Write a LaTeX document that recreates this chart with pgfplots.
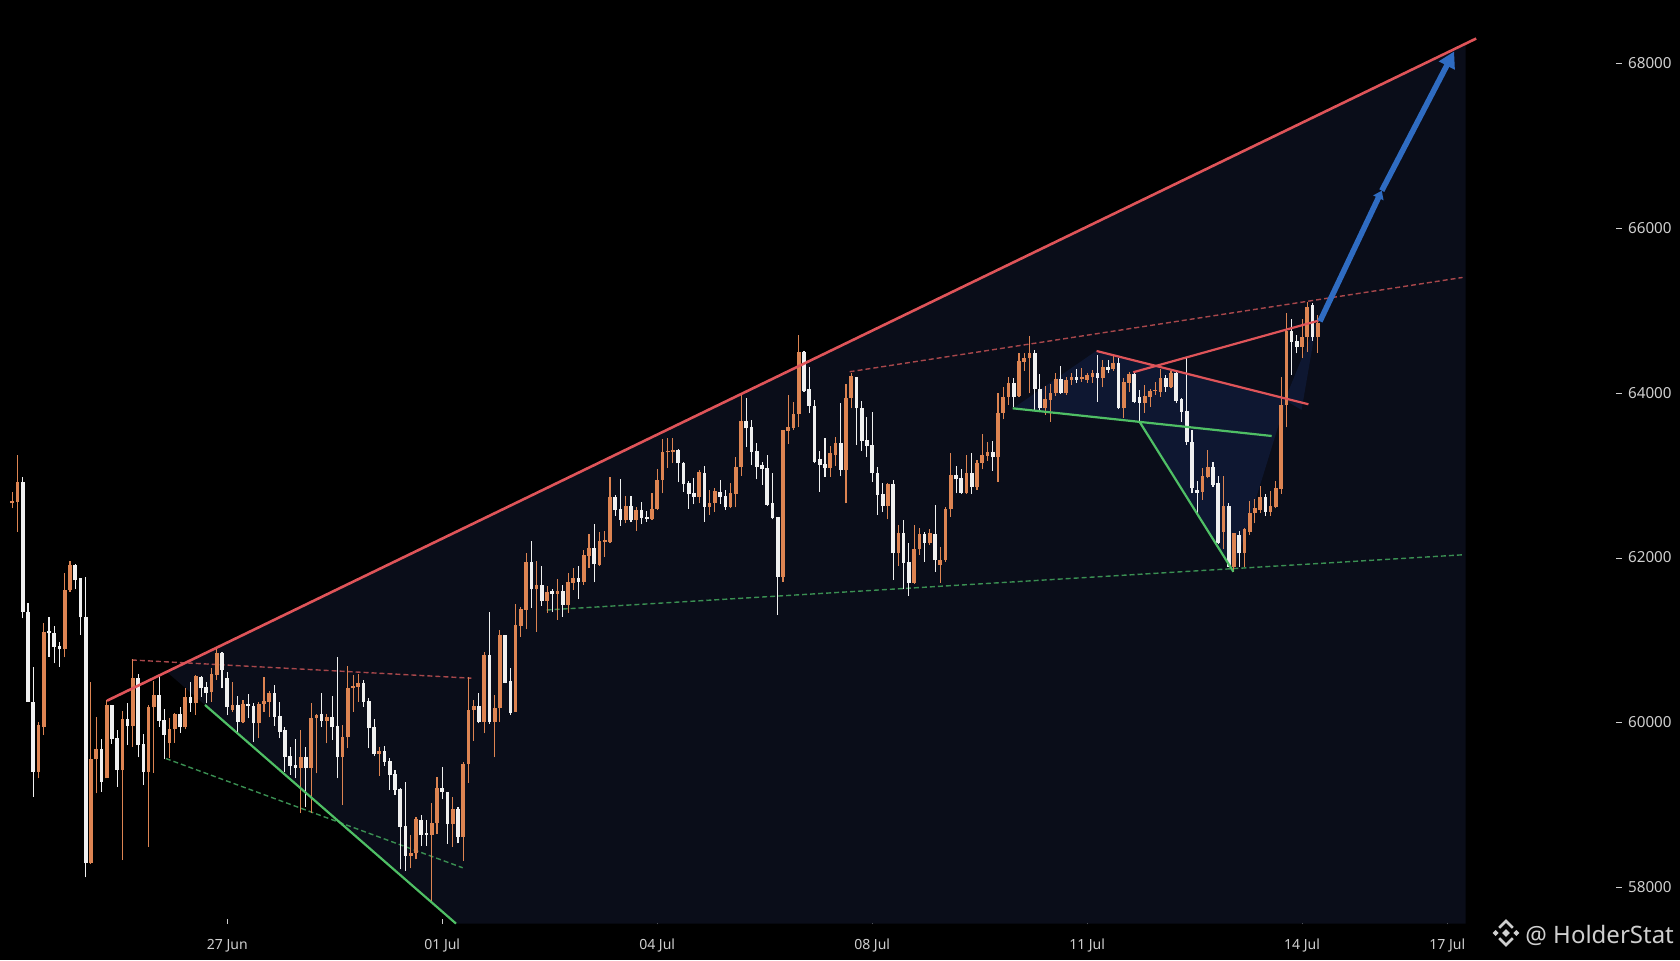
\documentclass[border=0pt]{standalone}
\usepackage{pgfplots}
\usepackage{pgfplotstable}
\usepackage{fontspec}
\setmainfont{Noto Sans}
\pgfplotsset{compat=1.18}
\usetikzlibrary{arrows.meta}

\definecolor{bg}{HTML}{000000}
\definecolor{panel}{HTML}{0A0D19}
\definecolor{pattern}{HTML}{0E1731}
\definecolor{candleup}{HTML}{DD8452}
\definecolor{candledown}{HTML}{F0F0F0}
\definecolor{trendred}{HTML}{DF5459}
\definecolor{dashred}{HTML}{A8474B}
\definecolor{trendgreen}{HTML}{4FBF65}
\definecolor{dashgreen}{HTML}{3A8F52}
\definecolor{arrowblue}{HTML}{2F6CC2}
\definecolor{labelgray}{HTML}{CFCFCF}

% candles, x = candle index (ticks every 41 candles)
\pgfplotstableread{
i O H L C
0 62655 62797 62595 62688
1 62676 63242 62311 62918
2 62918 62971 61259 61340
3 61340 61449 60247 60247
4 60247 60672 59093 59397
5 59397 60004 59316 59963
6 59943 61206 59842 61097
7 61105 61271 60793 61077
8 61085 61166 60712 60915
9 60923 60967 60672 60882
10 60882 61805 60785 61603
11 61603 61959 61583 61906
12 61906 61919 61611 61724
13 61745 61753 61056 61271
14 61271 61765 58114 58284
15 58284 60490 58275 59547
16 59547 60065 59134 59668
17 59668 59789 59154 59275
18 59316 60267 59316 60206
19 60206 60206 59733 59789
20 59801 59903 59215 59417
21 59417 60137 58324 60032
22 60032 60235 59720 59951
23 59951 60761 59700 60530
24 60530 60583 59571 59720
25 59733 59854 59235 59397
26 59397 60206 58486 60178
27 60178 60502 59385 60328
28 60328 60571 59943 60016
29 60024 60154 59547 59842
30 59741 60044 59559 59911
31 59911 60113 59749 60097
32 60097 60186 59870 59935
33 59935 60409 59911 60308
34 60308 60490 60125 60227
35 60227 60571 60085 60558
36 60542 60558 60308 60409
37 60421 60490 60227 60356
38 60360 60652 60247 60583
39 60571 60895 60510 60834
40 60842 60854 60409 60631
41 60530 60611 60085 60186
42 60146 60490 60126 60207
43 60207 60316 59883 60004
44 60004 60267 59984 60219
45 60219 60340 60045 60195
46 60195 60227 59761 59984
47 59984 60247 59802 60219
48 60219 60551 60126 60259
49 60247 60381 60057 60348
50 60348 60450 59952 60065
51 60073 60247 59802 59883
52 59903 59935 59397 59579
53 59587 59701 59357 59466
54 59478 59790 59316 59438
55 59438 59903 58891 59579
56 59579 59701 58972 59438
57 59438 60235 58891 60045
58 60045 60097 59377 60085
59 60097 60348 59935 60016
60 60016 60097 59741 60065
61 60057 60316 59782 59935
62 59952 60785 59316 59571
63 59571 59964 58992 59822
64 59814 60680 59680 60409
65 60409 60571 60126 60437
66 60429 60583 60247 60478
67 60478 60510 60186 60247
68 60259 60288 59680 59923
69 59943 60032 59587 59611
70 59611 59692 59344 59652
71 59652 59709 59466 59518
72 59530 59559 59174 59357
73 59369 59417 59114 59174
74 59182 59195 58211 58729
75 58737 59275 58195 58373
76 58373 58628 58223 58413
77 58405 58842 58332 58818
78 58810 58871 58494 58628
79 58648 58810 58494 58628
80 58628 59020 57806 58778
81 58770 59328 58640 59195
82 59195 59458 59061 59154
83 59154 59154 58519 58761
84 58761 59085 58486 58940
85 58940 58972 58527 58608
86 58608 59518 58316 59490
87 59490 60543 59263 60146
88 60146 60267 59773 60194
89 60194 60356 59984 60004
90 60004 60854 59862 60814
91 60814 61340 59976 60004
92 60004 60328 59571 60166
93 60166 61117 60004 61056
94 61056 61056 60470 60478
95 60498 60652 60085 60113
96 60125 61433 60125 61178
97 61166 61392 61036 61368
98 61360 62048 61125 61947
99 61947 62202 61380 61611
100 61611 61959 61097 61664
101 61664 61894 61409 61473
102 61473 61652 61328 61583
103 61595 61611 61340 61554
104 61554 61732 61239 61595
105 61595 61664 61279 61421
106 61421 61813 61328 61704
107 61692 61866 61603 61745
108 61745 61894 61490 61704
109 61704 62089 61664 62028
110 62016 62283 61866 62109
111 62117 62401 61696 61915
112 61907 62304 61899 62198
113 62190 62320 62008 62210
114 62190 62980 62170 62737
115 62737 62757 62506 62575
116 62587 62951 62385 62453
117 62453 62749 62413 62627
118 62627 62749 62425 62453
119 62453 62615 62320 62575
120 62575 62668 62401 62482
121 62494 62563 62433 62465
122 62465 62777 62453 62587
123 62587 63073 62575 62939
124 62939 63437 62777 63275
125 63275 63453 63089 63291
126 63283 63453 63142 63303
127 63303 63316 62911 63142
128 63142 63154 62797 62886
129 62899 62927 62587 62765
130 62777 62959 62644 62737
131 62737 63061 62656 63032
132 63020 63113 62433 62615
133 62615 62818 62514 62656
134 62664 62838 62554 62809
135 62797 62939 62648 62737
136 62745 62817 62575 62607
137 62615 62898 62595 62777
138 62769 63222 62607 63101
139 63101 63983 62988 63659
140 63659 63931 63344 63566
141 63579 63668 63121 63283
142 63295 63392 62947 63101
143 63121 63162 62878 63069
144 63081 63243 62623 62635
145 62664 63028 62461 62473
146 62486 62494 61300 61765
147 61765 63546 61704 63546
148 63538 63971 63376 63587
149 63566 63890 63546 63740
150 63740 64700 63587 64497
151 64497 64510 64012 64024
152 64040 64315 63749 63838
153 63838 63911 63141 63162
154 63190 63295 62797 63121
155 63133 63445 62979 63081
156 63081 63352 62979 63263
157 63242 63457 63109 63392
158 63392 63878 62987 63060
159 63060 64105 62655 63931
160 63931 64242 63809 64202
161 64186 64194 63364 63809
162 63809 63902 63295 63416
163 63424 63700 63214 63352
164 63364 63769 62918 63028
165 63028 63101 62514 62757
166 62769 62906 62554 62623
167 62623 62906 62461 62890
168 62890 62939 61724 62048
169 62048 62392 61894 62299
170 62299 62453 61611 61935
171 61947 62178 61530 61692
172 61692 62392 61676 62097
173 62097 62352 62028 62283
174 62283 62311 61947 62178
175 62170 62340 62149 62291
176 62283 62635 61826 61967
177 61906 62121 61692 61967
178 61967 62615 61947 62583
179 62583 63271 62494 63000
180 63000 63108 62777 62947
181 62959 63068 62768 62785
182 62785 63242 62768 63019
183 63019 63262 62768 62857
184 62857 63181 62817 63149
185 63149 63497 63068 63242
186 63230 63404 63173 63282
187 63282 63416 63052 63214
188 63214 64000 62918 63756
189 63756 64064 63675 63950
190 63950 64193 63849 64120
191 64120 64173 63821 63950
192 63958 64485 63950 64388
193 64375 64485 64266 64416
194 64416 64687 63991 64477
195 64477 64517 63789 64039
196 64039 64226 63780 63809
197 63809 64080 63728 63918
198 63910 64104 63647 64000
199 64000 64242 63958 64161
200 64161 64323 63983 64000
201 63991 64185 63971 64153
202 64153 64234 64092 64185
203 64186 64283 64121 64153
204 64161 64295 64133 64186
205 64153 64242 64121 64214
206 64186 64275 64121 64242
207 64242 64457 63890 64174
208 64174 64396 64064 64307
209 64307 64396 64234 64275
210 64283 64445 64267 64356
211 64364 64416 63797 63809
212 63809 64174 63688 64133
213 64121 64254 64012 64226
214 64226 64242 63870 63890
215 63951 64032 63647 63878
216 63878 64093 63757 63959
217 63951 64040 63829 64024
218 64024 64133 63971 64032
219 64012 64283 63951 64174
220 64174 64214 64012 64072
221 64072 64267 64052 64234
222 64234 64254 63870 63902
223 63918 63931 63647 63769
224 63781 64437 63364 63404
225 63404 63546 62777 62838
226 62817 62931 62514 62785
227 62797 63080 62696 62987
228 62979 63303 62959 63101
229 63101 63161 62858 62878
230 62906 62987 62161 62170
231 62311 62987 62097 62623
232 62623 62655 61878 61886
233 61886 62299 61826 62291
234 62271 62323 61886 62048
235 62048 62352 61878 62340
236 62311 62688 62271 62542
237 62534 62704 62412 62595
238 62574 62866 62534 62728
239 62728 62769 62501 62554
240 62554 62809 62501 62623
241 62615 62931 62595 62837
242 62825 64185 62769 63849
243 63849 64963 63578 64752
244 64752 64890 64214 64619
245 64631 64700 64477 64558
246 64558 64890 64416 64671
247 64671 65104 64497 65036
248 65064 65084 64631 64671
249 64671 64942 64485 64849
}\candles

\pgfplotsset{
  up/.style={x filter/.expression={\thisrow{C}>=\thisrow{O} ? x : nan}},
  down/.style={x filter/.expression={\thisrow{C}<\thisrow{O} ? x : nan}},
  stick/.style 2 args={draw=none, mark=none, forget plot,
    error bars/y dir=plus, error bars/y explicit, error bars/error mark=none,
    error bars/error bar style={line width=#2, draw=#1}},
}

\begin{document}
\begin{tikzpicture}
\begin{axis}[
  scale only axis, width=840pt, height=480pt,
  xmin=-2.346, xmax=318.08, ymin=57110, ymax=68767,
  axis background/.style={fill=bg},
  axis line style={draw=none},
  scaled ticks=false,
  xtick={41,82,123,164,205,246,273.7},
  xticklabels={27 Jun,01 Jul,04 Jul,08 Jul,11 Jul,14 Jul,17 Jul},
  xtick pos=bottom,
  major tick length=2.5pt,
  xtick style={draw=labelgray, line width=0.5pt, yshift=18pt},
  xticklabel style={anchor=base, yshift=5.5pt, text=labelgray, font=\fontsize{7}{8}\selectfont},
  ytick={58000,60000,...,68000},
  ytick style={draw=none},
  yticklabel pos=right,
  yticklabel style={anchor=east, inner sep=0pt, xshift=-4pt, text=labelgray, font=\fontsize{7.6}{9}\selectfont},
  yticklabel={\rule[0.27em]{3pt}{0.5pt}\hspace{3pt}\pgfmathprintnumber[fixed,precision=0,1000 sep={}]{\tick}},
  /pgf/number format/assume math mode=true,
]
% pattern shading
\addplot[fill=panel, draw=none, forget plot] coordinates
  {(29.45,60609) (36.75,60207) (84.63,57552) (277.2,57552) (277.2,68237)} -- cycle;
\addplot[fill=pattern, draw=none, forget plot] coordinates
  {(190.9,63809) (206.8,64509) (243.1,63931) (232.9,61825) (215.1,63635)} -- cycle;
\addplot[fill=pattern, draw=none, forget plot] coordinates
  {(242.7,63910) (248.8,64861) (245.9,63789)} -- cycle;

% dashed guides
\addplot[dashred, line width=0.7pt, dash pattern=on 2.5pt off 1.5pt] coordinates {(22.8,60753) (87.56,60532)};
\addplot[dashgreen, line width=0.7pt, dash pattern=on 2.5pt off 1.5pt] coordinates {(29.3,59556) (85.9,58230)};
\addplot[dashgreen, line width=0.7pt, dash pattern=on 2.5pt off 1.5pt] coordinates {(101.9,61360) (276.6,62030)};
\addplot[dashred, line width=0.7pt, dash pattern=on 2.5pt off 1.5pt] coordinates {(159.7,64253) (276.6,65398)};

% candles: wicks then bodies
\addplot[up, stick={candleup}{0.55pt}] table[x=i, y=L, y error expr={\thisrow{H}-\thisrow{L}}] {\candles};
\addplot[down, stick={candledown}{0.55pt}] table[x=i, y=L, y error expr={\thisrow{H}-\thisrow{L}}] {\candles};
\addplot[up, stick={candleup}{1.85pt}] table[x=i, y=O, y error expr={\thisrow{C}-\thisrow{O}}] {\candles};
\addplot[down, stick={candledown}{1.85pt}] table[x=i, y=C, y error expr={\thisrow{O}-\thisrow{C}}] {\candles};

% trend lines
\addplot[trendred, line width=1.3pt] coordinates {(18.08,60259) (279.2,68299)};
\addplot[trendgreen, line width=1.1pt] coordinates {(36.75,60207) (84.63,57552)};
\addplot[trendred, line width=1.1pt] coordinates {(206.8,64505) (247.2,63858)};
\addplot[trendred, line width=1.1pt] coordinates {(213.8,64247) (249.1,64873)};
\addplot[trendgreen, line width=1.1pt] coordinates {(190.8,63809) (240.2,63473)};
\addplot[trendgreen, line width=1.1pt] coordinates {(215.1,63635) (232.9,61825)};

% projection arrow
\addplot[arrowblue, line width=2.8pt, -{Triangle[length=4pt,width=5.5pt]}] coordinates {(249.4,64865) (261.2,66452)};
\addplot[arrowblue, line width=2.8pt, -{Triangle[length=8pt,width=8.5pt]}] coordinates {(261.2,66452) (275.0,68143)};
\end{axis}

% watermark
\begin{scope}[shift={(current axis.south west)}, xshift=753pt, yshift=13.5pt]
  \fill[labelgray] (0,-1.9pt) -- (1.9pt,0) -- (0,1.9pt) -- (-1.9pt,0) -- cycle;
  \fill[labelgray] (-5.2pt,-1.5pt) -- (-3.7pt,0) -- (-5.2pt,1.5pt) -- (-6.7pt,0) -- cycle;
  \fill[labelgray] (5.2pt,-1.5pt) -- (6.7pt,0) -- (5.2pt,1.5pt) -- (3.7pt,0) -- cycle;
  \draw[labelgray, line width=1.3pt] (-3.4pt,2.6pt) -- (0,6pt) -- (3.4pt,2.6pt);
  \draw[labelgray, line width=1.3pt] (-3.4pt,-2.6pt) -- (0,-6pt) -- (3.4pt,-2.6pt);
\end{scope}
\node[anchor=base west, inner sep=0pt, text=labelgray, font=\fontsize{12}{14}\selectfont]
  at ([xshift=762.5pt, yshift=8.5pt]current axis.south west) {@ HolderStat};
\end{tikzpicture}
\end{document}
